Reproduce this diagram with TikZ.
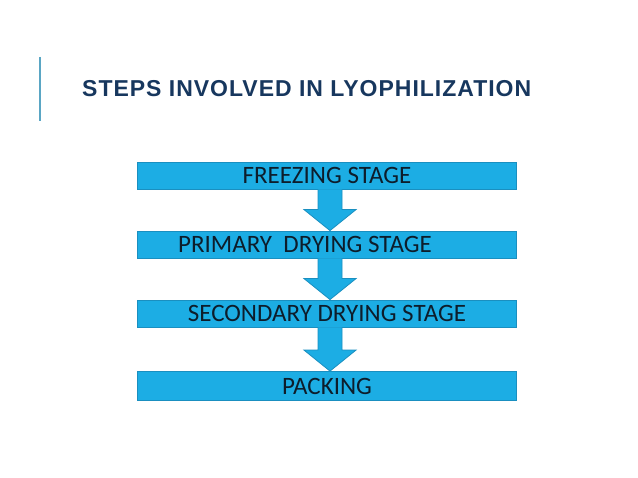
\documentclass[tikz,border=0pt]{standalone}
\usepackage{fontspec}
\setmainfont{Carlito}
\newfontfamily\titlefont[LetterSpace=4.3]{Liberation Sans}
\usetikzlibrary{calc}

\definecolor{stagefill}{HTML}{1CADE4}
\definecolor{stageline}{HTML}{1A8FC0}
\definecolor{stagetext}{HTML}{0D1D2B}
\definecolor{titleblue}{HTML}{17375E}
\definecolor{barteal}{HTML}{5AA6C4}

\begin{document}
\begin{tikzpicture}[x=1pt,y=-1pt]

    \useasboundingbox (0,0) rectangle (638,478);

    \tikzset{
        stage/.style={rectangle,fill=stagefill,draw=stageline,line width=0.8pt,
            minimum width=379pt,minimum height=27pt,inner sep=0pt,
            text=stagetext,font=\fontsize{25}{27}\selectfont},
        blockarrow/.style={fill=stagefill,draw=stageline,line width=0.8pt}
    }

    % title
    \draw[barteal,line width=1.8pt] (40,57) -- (40,121);
    \node[anchor=base west,inner sep=0pt,text=titleblue,
          font=\titlefont\bfseries\fontsize{23}{25}\selectfont] (title) at (82,97)
          {STEPS INVOLVED IN LYOPHILIZATION};

    % stages
    \node[stage] (freeze) at (327,175.5) {FREEZING STAGE};
    \node[stage] (primary) at (327,244.5) {PRIMARY\ \ DRYING STAGE\hspace*{44pt}};
    \node[stage] (secondary) at (327,313.5) {SECONDARY DRYING STAGE};
    \node[stage,minimum height=29pt] (pack) at (327,386) {PACKING};

    % arrows
    \foreach \a/\b in {freeze/primary,primary/secondary,secondary/pack}
        \draw[blockarrow] ($(\a.south)+(-9,0)$) -- ($(\b.north)+(-9,-21)$)
            -- ($(\b.north)+(-23,-21)$) -- ($(\b.north)+(3,0)$)
            -- ($(\b.north)+(29,-21)$) -- ($(\b.north)+(15,-21)$)
            -- ($(\a.south)+(15,0)$);

\end{tikzpicture}
\end{document}
